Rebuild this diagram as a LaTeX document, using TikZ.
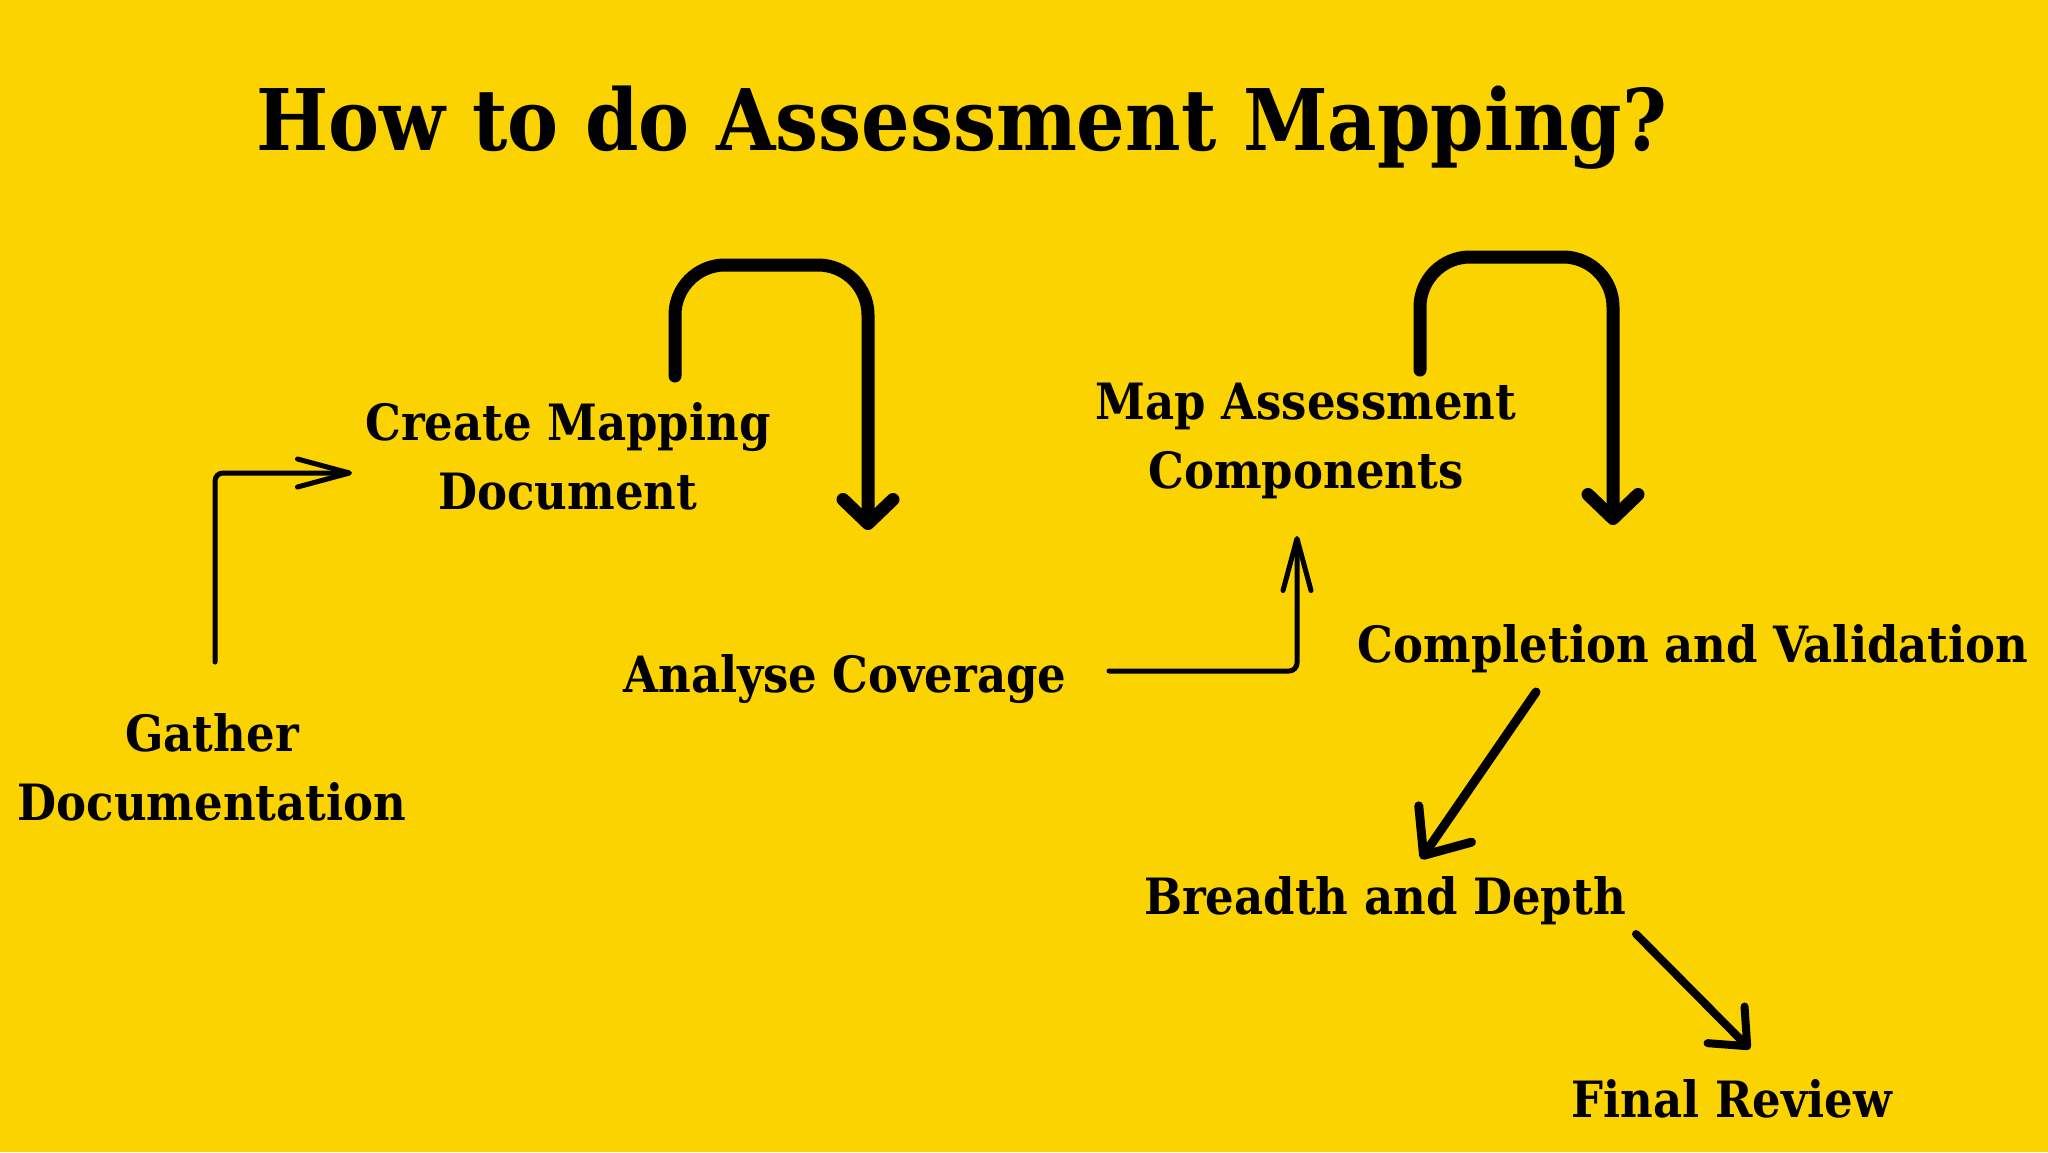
\documentclass[tikz,border=0pt]{standalone}
\usepackage{fontspec}
\setmainfont{DejaVu Serif Condensed}
\usetikzlibrary{arrows.meta}
\definecolor{bgyellow}{RGB}{251,211,0}
\begin{document}
\begin{tikzpicture}[x=1pt,y=-1pt,
  lbl/.style={font=\bfseries\fontsize{50}{69}\selectfont, align=center, inner sep=0pt, anchor=base},
  thinarrow/.style={line width=5pt, line cap=round, line join=round, rounded corners=8pt,
     -{Straight Barb[length=52pt,width=28pt,line cap=round,line join=round]}},
  thickarrow/.style={line width=13pt, line cap=round, line join=round, rounded corners=50pt,
     -{Straight Barb[length=24pt,width=50pt,line cap=round,line join=round]}},
  diagarrow/.style={line cap=round, line join=round}
]
\path[fill=bgyellow] (0,0) rectangle (2048,1152);
\node[font=\bfseries\fontsize{85}{100}\selectfont, inner sep=0pt, anchor=base] (title) at (962,150) {How to do Assessment Mapping?};

\node[lbl] (create) at (568,509) {Create Mapping\\Document};
\node[lbl] (gather) at (212,820) {Gather\\Documentation};
\node[lbl] (analyse) at (845,692) {Analyse Coverage};
\node[lbl] (map) at (1306,488) {Map Assessment\\Components};
\node[lbl] (complete) at (1693,662) {Completion and Validation};
\node[lbl] (breadth) at (1385,914) {Breadth and Depth};
\node[lbl] (final) at (1732,1117) {Final Review};

% connector end points
\coordinate (g1) at (215,662);
\coordinate (c1) at (352,473);
\coordinate (cr1) at (675,376);
\coordinate (a1) at (868,530);
\coordinate (an1) at (1109,671);
\coordinate (m1) at (1297,536);
\coordinate (mp1) at (1420,370);
\coordinate (co1) at (1613,525);
\coordinate (co2) at (1536,692);
\coordinate (b1) at (1421,859);
\coordinate (b2) at (1636,934);
\coordinate (f1) at (1750,1049);

\draw[thinarrow] (g1) |- (c1);
\draw[thickarrow] (cr1) -- (cr1 |- 0,265) -- (a1 |- 0,265) -- (a1);
\draw[thinarrow] (an1) -| (m1);
\draw[thickarrow] (mp1) -- (mp1 |- 0,257) -- (co1 |- 0,257) -- (co1);
\draw[diagarrow, line width=9pt, -{Straight Barb[length=38pt,width=64pt,line cap=round,line join=round]}] (co2) -- (b1);
\draw[diagarrow, line width=8pt, -{Straight Barb[length=30pt,width=52pt,line cap=round,line join=round]}] (b2) -- (f1);
\end{tikzpicture}
\end{document}
